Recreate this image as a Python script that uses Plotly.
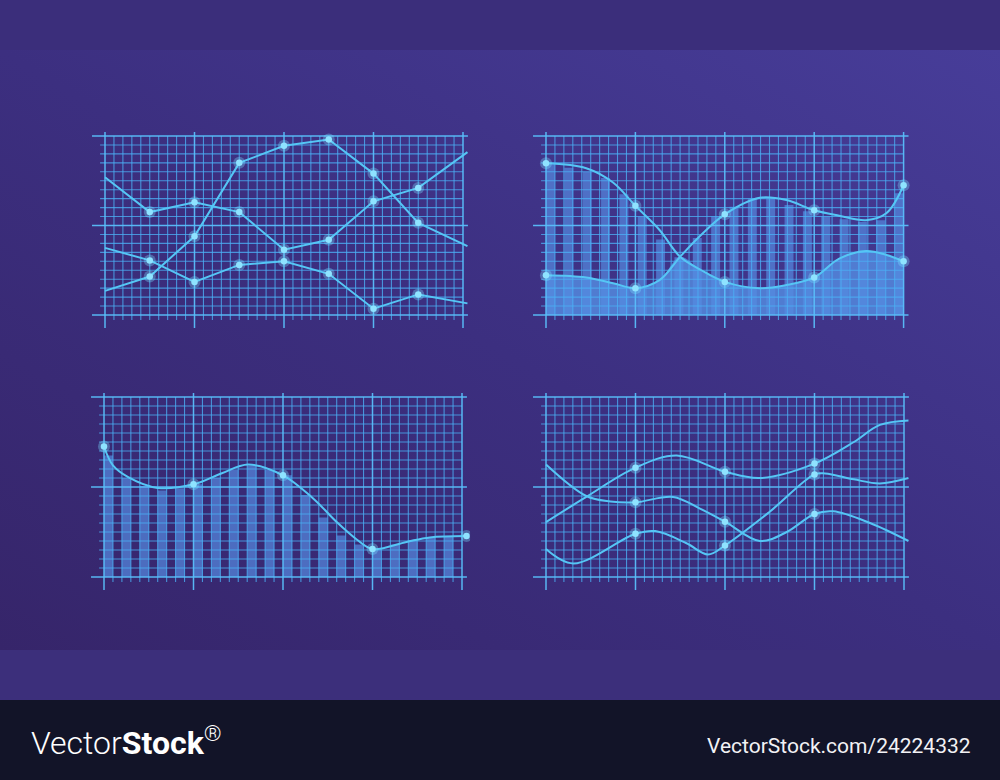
import base64
import plotly.graph_objects as go

# ---------------- data (x in grid columns 0..40, y in grid rows 0..20) ----------------
# Chart 1 (top-left): three polylines
c1_x = [0, 5, 10, 15, 20, 25, 30, 35, 40.5]
c1_a = [15.4, 11.5, 12.6, 11.5, 7.3, 8.4, 12.7, 14.2, 18.2]
c1_b = [2.7, 4.3, 8.8, 17.0, 18.9, 19.6, 15.8, 10.3, 7.7]
c1_c = [7.5, 6.1, 3.7, 5.6, 6.0, 4.6, 0.7, 2.3, 1.3]
c1_marked = [5, 10, 15, 20, 25, 30, 35]

# Chart 2 (top-right): two smooth curves, bars, filled lower envelope
c2_x = [0, 4.5, 7.5, 10, 12.7, 15, 17.2, 20, 23.9, 26.9, 30, 32.8, 35.8, 38.1, 40]
c2_a = [16.95, 16.4, 14.8, 12.2, 9.5, 6.5, 5.1, 3.7, 3.0, 3.35, 4.2, 6.3, 7.15, 6.7, 6.0]
c2_b = [4.45, 4.2, 3.55, 3.0, 3.9, 6.5, 8.8, 11.25, 13.1, 12.85, 11.7, 11.1, 10.6, 11.4, 14.5]
c2_bars = [16.95, 16.45, 16.0, 15.3, 13.5, 11.0, 8.45, 6.45, 8.6, 11.0,
           12.1, 13.0, 13.0, 12.3, 11.6, 11.0, 10.7, 10.4, 10.6, 13.6]
c2_marked = [0, 10, 20, 30, 40]

# Chart 3 (bottom-left): one smooth curve with bars
c3_x = [0, 1, 2.7, 6, 10, 13.1, 16.1, 20, 23.4, 26, 28.2, 30, 33.8, 36.4, 40.5]
c3_y = [14.5, 12.4, 11.1, 9.9, 10.3, 11.5, 12.5, 11.3, 8.7, 6.1, 4.2, 3.1, 3.9, 4.4, 4.55]
c3_bars = [13.5, 11.0, 10.1, 9.6, 9.85, 10.3, 11.0, 11.9, 12.4, 11.9,
           11.3, 9.1, 6.6, 4.6, 3.6, 3.1, 3.6, 4.1, 4.4, 4.5]
c3_marked = [0, 10, 20, 30, 40.5]

# Chart 4 (bottom-right): three smooth curves
c4a_x = [0, 4.5, 10, 14.6, 20, 23.9, 30, 34.4, 37.3, 40.5]
c4a_y = [6.1, 8.9, 12.15, 13.5, 11.7, 11.0, 12.6, 15.0, 16.9, 17.4]
c4b_x = [0, 4.5, 7.2, 10, 14.2, 17.2, 20, 23.9, 26.9, 30, 32.1, 36.2, 40.5]
c4b_y = [12.5, 9.0, 8.4, 8.3, 8.9, 7.6, 6.15, 4.0, 5.0, 7.0, 7.3, 6.0, 4.0]
c4c_x = [0, 3.05, 10, 12.2, 15.7, 18.1, 20, 25, 30, 31.2, 34.4, 37.3, 40.5]
c4c_y = [3.1, 1.5, 4.8, 5.1, 3.75, 2.5, 3.5, 7.25, 11.4, 11.5, 10.85, 10.4, 11.0]
c4_marked = [10, 20, 30]

# ---------------- styling / layout constants ----------------
W, H = 1000, 780
XR = [-1.6, 40.9]
YR = [-1.55, 20.5]
# grid origin (left px, top px) and pixel size of one cell
CHARTS = {1: (105, 136, 8.95, 8.95), 2: (546, 136, 8.94, 8.95),
          3: (104, 397, 8.95, 9.0), 4: (546, 397, 8.95, 9.0)}

LINE = '#55c6f5'
MARK = '#8fe3ff'
GRID_MINOR = 'rgba(75,175,245,0.78)'
GRID_MAJOR = 'rgba(90,190,250,0.95)'
BAR = 'rgba(84,136,222,0.72)'
FILL = 'rgba(84,140,225,0.82)'


def xdom(left, ux):
    return [(left + XR[0] * ux) / W, (left + XR[1] * ux) / W]


def ydom(top, uy):
    return [1 - (top + (20 - YR[0]) * uy) / H, 1 - (top + (20 - YR[1]) * uy) / H]


def grid_paths():
    mx, my, Mx, My = [], [], [], []
    for i in range(1, 40):
        if i % 10:
            mx += [i, i, None]
            my += [-0.55, 20, None]
    for j in range(1, 20):
        if j % 10:
            mx += [-0.55, 40, None]
            my += [j, j, None]
    for i in range(0, 41, 10):
        Mx += [i, i, None]
        My += [-1.45, 20.45, None]
    for j in (0, 10, 20):
        Mx += [-1.45, 40.55, None]
        My += [j, j, None]
    return mx, my, Mx, My


def pick(xs, ys, marked):
    px = [x for x in xs if x in marked]
    py = [y for x, y in zip(xs, ys) if x in marked]
    return px, py


fig = go.Figure()

# axis refs for each chart: (grid-unit x axis, y axis)
REFS = {1: ('x', 'y'), 2: ('x5', 'y2'), 3: ('x6', 'y3'), 4: ('x4', 'y4')}

# ---- bars (on main index axes of charts 2 and 3) ----
fig.add_trace(go.Bar(x=list(range(len(c2_bars))), y=c2_bars, xaxis='x2', yaxis='y2',
                     width=19 / 39, marker=dict(color=BAR, line_width=0), hoverinfo='skip'))
fig.add_trace(go.Bar(x=list(range(len(c3_bars))), y=c3_bars, xaxis='x3', yaxis='y3',
                     width=0.5, marker=dict(color=BAR, line_width=0), hoverinfo='skip'))

# ---- chart 2 filled lower envelope ----
c2_low = [min(a, b) for a, b in zip(c2_a, c2_b)]
fig.add_trace(go.Scatter(x=c2_x, y=c2_low, xaxis='x5', yaxis='y2', mode='lines',
                         line=dict(width=0, shape='spline', smoothing=1.0),
                         fill='tozeroy', fillcolor=FILL, hoverinfo='skip'))

# ---- grids ----
mx, my, Mx, My = grid_paths()
for k in (1, 2, 3, 4):
    xa, ya = REFS[k]
    fig.add_trace(go.Scatter(x=mx, y=my, xaxis=xa, yaxis=ya, mode='lines',
                             line=dict(color=GRID_MINOR, width=1.1), hoverinfo='skip'))
    fig.add_trace(go.Scatter(x=Mx, y=My, xaxis=xa, yaxis=ya, mode='lines',
                             line=dict(color=GRID_MAJOR, width=1.5), hoverinfo='skip'))


def curve(xs, ys, k, shape):
    xa, ya = REFS[k]
    fig.add_trace(go.Scatter(x=xs, y=ys, xaxis=xa, yaxis=ya, mode='lines',
                             line=dict(color=LINE, width=2, shape=shape, smoothing=1.0),
                             hoverinfo='skip'))


def markers(xs, ys, k):
    xa, ya = REFS[k]
    fig.add_trace(go.Scatter(x=xs, y=ys, xaxis=xa, yaxis=ya, mode='markers',
                             marker=dict(color='rgba(120,220,255,0.35)', size=12),
                             hoverinfo='skip'))
    fig.add_trace(go.Scatter(x=xs, y=ys, xaxis=xa, yaxis=ya, mode='markers',
                             marker=dict(color=MARK, size=6.5), hoverinfo='skip'))


# chart 1
for ys in (c1_a, c1_b, c1_c):
    curve(c1_x, ys, 1, 'linear')
for ys in (c1_a, c1_b, c1_c):
    markers(*pick(c1_x, ys, c1_marked), 1)
# chart 2
for ys in (c2_a, c2_b):
    curve(c2_x, ys, 2, 'spline')
for ys in (c2_a, c2_b):
    markers(*pick(c2_x, ys, c2_marked), 2)
# chart 3
curve(c3_x, c3_y, 3, 'spline')
markers(*pick(c3_x, c3_y, c3_marked), 3)
# chart 4
for xs, ys in ((c4a_x, c4a_y), (c4b_x, c4b_y), (c4c_x, c4c_y)):
    curve(xs, ys, 4, 'spline')
for xs, ys in ((c4a_x, c4a_y), (c4b_x, c4b_y), (c4c_x, c4c_y)):
    markers(*pick(xs, ys, c4_marked), 4)

# ---------------- axes ----------------
hidden = dict(visible=False, fixedrange=True, showgrid=False, zeroline=False)
layout_axes = {}
for k in (1, 2, 3, 4):
    left, top, ux, uy = CHARTS[k]
    xn = 'xaxis' if k == 1 else f'xaxis{k}'
    yn = 'yaxis' if k == 1 else f'yaxis{k}'
    yid = 'y' if k == 1 else f'y{k}'
    xid = 'x' if k == 1 else f'x{k}'
    layout_axes[yn] = dict(hidden, domain=ydom(top, uy), range=YR, anchor=xid)
    if k in (2, 3):
        period = 39 / 19 if k == 2 else 2.0
        layout_axes[xn] = dict(hidden, domain=xdom(left, ux), anchor=yid,
                               range=[(XR[0] - 0.5) / period, (XR[1] - 0.5) / period])
        ov = 'xaxis5' if k == 2 else 'xaxis6'
        layout_axes[ov] = dict(hidden, domain=xdom(left, ux), anchor=yid,
                               overlaying=xid, range=XR)
    else:
        layout_axes[xn] = dict(hidden, domain=xdom(left, ux), anchor=yid, range=XR)

# ---------------- background ----------------
svg = '''<svg xmlns="http://www.w3.org/2000/svg" width="1000" height="780" viewBox="0 0 1000 780" preserveAspectRatio="none">
<defs><linearGradient id="g" x1="0" y1="1" x2="1" y2="0">
<stop offset="0" stop-color="#36256a"/><stop offset="0.5" stop-color="#3c2f80"/><stop offset="1" stop-color="#473d99"/></linearGradient></defs>
<rect width="1000" height="780" fill="#3b2e7b"/>
<rect y="50" width="1000" height="600" fill="url(#g)"/>
<rect y="650" width="1000" height="50" fill="#3c2f7b"/>
<rect y="700" width="1000" height="80" fill="#121428"/>
</svg>'''
src = 'data:image/svg+xml;base64,' + base64.b64encode(svg.encode()).decode()

fig.update_layout(
    width=W, height=H, margin=dict(l=0, r=0, t=0, b=0),
    paper_bgcolor='#3b2e7b', plot_bgcolor='rgba(0,0,0,0)',
    showlegend=False, barmode='overlay',
    images=[dict(source=src, xref='paper', yref='paper', x=0, y=1, sizex=1, sizey=1,
                 xanchor='left', yanchor='top', sizing='stretch', layer='below')],
    annotations=[
        dict(text='Vector<b>Stock</b><sup>®</sup>', xref='paper', yref='paper',
             x=29 / W, y=1 - 741 / H, xanchor='left', yanchor='middle', showarrow=False,
             font=dict(family='Roboto', size=32, color='#ffffff', weight=300)),
        dict(text='VectorStock.com/24224332', xref='paper', yref='paper',
             x=973 / W, y=1 - 746 / H, xanchor='right', yanchor='middle', showarrow=False,
             font=dict(family='Roboto', size=21, color='#f2f2f5')),
    ],
    **layout_axes,
)

fig.write_html('out.html', config={'displayModeBar': False},
               post_script="document.body.style.margin='0';document.body.style.overflow='hidden';")
